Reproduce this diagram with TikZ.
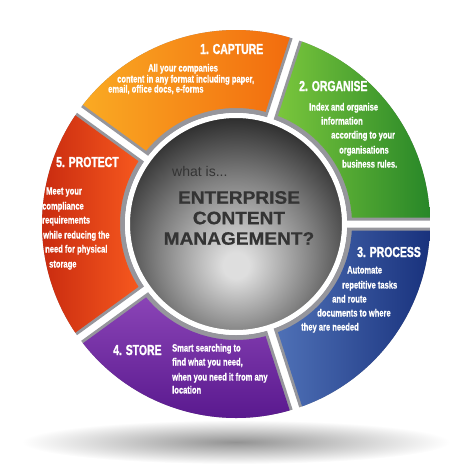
\documentclass[tikz,border=0pt]{standalone}
\usepackage{fontspec}
\setmainfont{Liberation Sans}
\newfontfamily\narrowbold[FakeStretch=0.72,FakeBold=0.8]{Liberation Sans Bold}
\newfontfamily\titlebold[FakeStretch=0.72,FakeBold=1.4]{Liberation Sans Bold}
\newfontfamily\hubbold[FakeStretch=1.06,FakeBold=0.6]{Liberation Sans Bold}
\usepackage{tikz}
\usetikzlibrary{positioning}
\usepackage{xcolor}
\definecolor{capturelight}{RGB}{250,170,35}
\definecolor{capturedark}{RGB}{242,108,14}
\definecolor{organiselight}{RGB}{122,198,60}
\definecolor{organisedark}{RGB}{40,135,40}
\definecolor{processlight}{RGB}{78,112,182}
\definecolor{processdark}{RGB}{25,50,125}
\definecolor{storelight}{RGB}{138,68,182}
\definecolor{storedark}{RGB}{84,20,138}
\definecolor{protectlight}{RGB}{246,88,30}
\definecolor{protectdark}{RGB}{196,38,14}
\definecolor{bevelgray}{RGB}{150,150,156}
\definecolor{ballhi}{RGB}{222,222,222}
\definecolor{ballmid}{RGB}{128,128,128}
\definecolor{balldark}{RGB}{34,34,34}
\definecolor{ecmtext}{RGB}{52,52,52}
\pgfdeclareradialshading{ecmball}{\pgfpoint{0bp}{-10bp}}{color(0bp)=(ballhi); color(3bp)=(ballhi); color(18bp)=(ballmid); color(32bp)=(balldark); color(70bp)=(balldark)}
\tikzstyle{segtitle} = [font=\titlebold\fontsize{14.5}{15}\selectfont, text=white, inner sep=0pt, anchor=base west]
\tikzstyle{segtext} = [font=\narrowbold\fontsize{10.5}{12}\selectfont, text=white, inner sep=0pt, anchor=base west]
\tikzstyle{hubtext} = [font=\hubbold\fontsize{18}{20.5}\selectfont, text=ecmtext, align=center, inner sep=0pt]
% one ring segment: start angle, half gap, inner radius, options
\newcommand{\ecmsector}[4]{%
  \path[#4] ({#1+asin(#2/194)}:194) arc[start angle={#1+asin(#2/194)}, end angle={#1+72-asin(#2/194)}, radius=194]
    -- ({#1+72-asin(#2/#3)}:#3) arc[start angle={#1+72-asin(#2/#3)}, end angle={#1+asin(#2/#3)}, radius=#3] -- cycle;}
\begin{document}
\begin{tikzpicture}[x=1pt, y=-1pt]
\useasboundingbox (0,0) rectangle (474,472);
% floor shadow
\shade[inner color=gray!85, outer color=white] (236,442) ellipse [x radius=214, y radius=22];

% ring
\begin{scope}[shift={(236,224)}]
\foreach \a in {0,72,144,216,288} \ecmsector{\a}{3.5}{111}{fill=bevelgray};
\ecmsector{0}{6.5}{116}{left color=processlight, right color=processdark}
\ecmsector{72}{6.5}{116}{top color=storelight, bottom color=storedark}
\ecmsector{144}{6.5}{116}{left color=protectdark, right color=protectlight}
\ecmsector{216}{6.5}{116}{left color=capturelight, right color=capturedark}
\ecmsector{288}{6.5}{116}{left color=organiselight, right color=organisedark}
\end{scope}

% hub
\node[circle, minimum size=217pt, inner sep=0pt, shading=ecmball, draw=white, line width=5pt] (ball) at (236,224) {};
\node[font=\fontsize{14}{14}\selectfont, text=ecmtext, inner sep=0pt, anchor=base west] (whatis) at (172,176.5) {what is...};
\node[hubtext] (ecm) at (239,218) {ENTERPRISE\\CONTENT\\MANAGEMENT?};

% 1. capture
\node[segtitle] (capture) at (200,54) {1. CAPTURE};
\foreach \txt/\xx/\yy [count=\i] in {All your companies/148/71.5, {content in any format including paper,}/117/82.5, {email, office docs, e-forms}/108/92.5}
  \node[segtext] (capture\i) at (\xx,\yy) {\txt};

% 2. organise
\node[segtitle] (organise) at (299,91) {2. ORGANISE};
\foreach \txt/\xx/\yy [count=\i] in {Index and organise/309/110.5, information/321/124.5, according to your/331/138.5, organisations/339/153.5, business rules./342/167.5}
  \node[segtext] (organise\i) at (\xx,\yy) {\txt};

% 3. process
\node[segtitle] (process) at (357,257) {3. PROCESS};
\foreach \txt/\xx/\yy [count=\i] in {Automate/347/273.5, repetitive tasks/342/288.5, and route/332/302.5, documents to where/317/316.5, they are needed/301/330.5}
  \node[segtext] (process\i) at (\xx,\yy) {\txt};

% 4. store
\node[segtitle] (store) at (113,355) {4. STORE};
\foreach \txt/\xx/\yy [count=\i] in {Smart searching to/172/351.5, {find what you need,}/172/365.5, when you need it from any/172/380.5, location/172/393.5}
  \node[segtext] (store\i) at (\xx,\yy) {\txt};

% 5. protect
\node[segtitle] (protect) at (56,167) {5. PROTECT};
\foreach \txt/\xx/\yy [count=\i] in {Meet your/46/194.5, compliance/42/209.5, requirements/42/223.5, while reducing the/43/238.5, need for physical/45/252.5, storage/49/267.5}
  \node[segtext] (protect\i) at (\xx,\yy) {\txt};
\end{tikzpicture}
\end{document}
